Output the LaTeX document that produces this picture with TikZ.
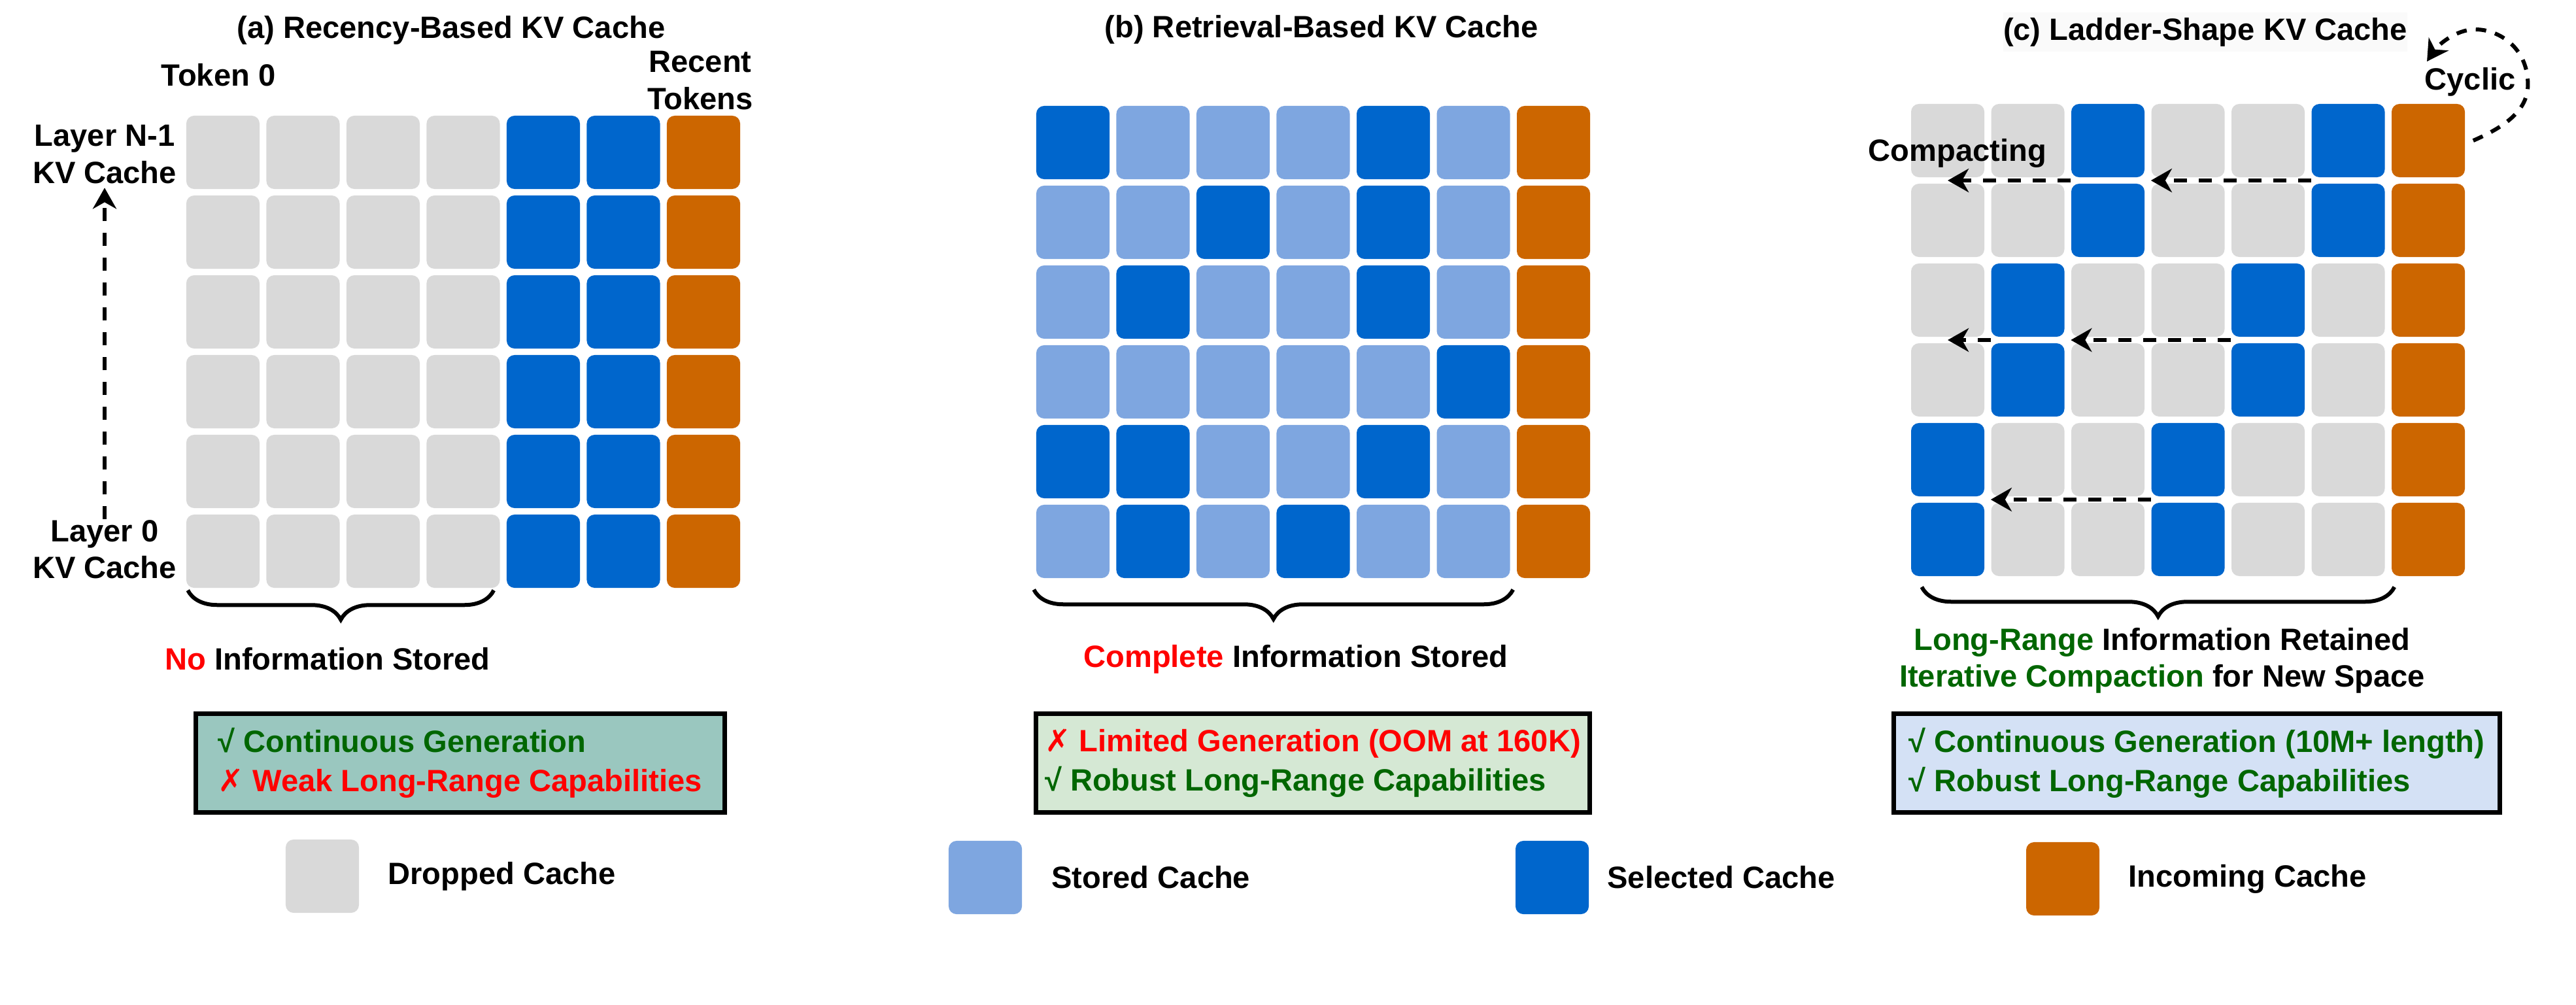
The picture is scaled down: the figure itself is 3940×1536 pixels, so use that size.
\documentclass[tikz,border=0pt]{standalone}
\usepackage{fontspec}
\setmainfont{Liberation Sans}
\newfontfamily\symfont{DejaVu Sans}
\usetikzlibrary{positioning,calc,arrows.meta,decorations.pathreplacing}

\definecolor{cg}{HTML}{D9D9D9}
\definecolor{cl}{HTML}{7EA6E0}
\definecolor{cb}{HTML}{0066CC}
\definecolor{co}{HTML}{CC6600}
\definecolor{boxa}{HTML}{9AC7BF}
\definecolor{boxb}{HTML}{D5E8D4}
\definecolor{boxc}{HTML}{D4E1F5}
\definecolor{okgreen}{HTML}{006600}
\definecolor{badred}{HTML}{FF0000}

\newcommand{\okmark}{√}
\newcommand{\badmark}{{\symfont\mdseries ✗}}

\begin{document}
\begin{tikzpicture}[x=0.01cm, y=-0.01cm,
  font=\bfseries\fontsize{13.4}{16}\selectfont,
  kvcell/.style={rectangle, minimum size=1.12cm, rounded corners=0.12cm, inner sep=0},
  lbl/.style={inner sep=0, align=center},
  prosbox/.style={draw=black, line width=0.07cm, minimum height=1.51cm, align=left, inner sep=0,
    font=\bfseries\fontsize{13.4}{17}\selectfont},
  dashline/.style={line width=0.06cm, dash pattern=on 0.2cm off 0.18cm},
  dasharrow/.style={-{Stealth[length=0.32cm, width=0.36cm, inset=0.1cm]}},
  curly/.style={line width=0.06cm, decorate, decoration={brace, mirror, amplitude=0.45cm}}]
\useasboundingbox (0,0) rectangle (3940,1536);

\foreach \r in {0,...,5} {
  \foreach \fc [count=\c from 0] in {cg,cg,cg,cg,cb,cb,co} {
    \node[kvcell, fill=\fc] (a-\r-\c) at ({341+122.5*\c}, {233+122*\r}) {};
  }
}
\foreach \row [count=\r from 0] in {{cb,cl,cl,cl,cb,cl,co},{cl,cl,cb,cl,cb,cl,co},{cl,cb,cl,cl,cb,cl,co},
    {cl,cl,cl,cl,cl,cb,co},{cb,cb,cl,cl,cb,cl,co},{cl,cb,cl,cb,cl,cl,co}} {
  \foreach \fc [count=\c from 0] in \row {
    \node[kvcell, fill=\fc] (b-\r-\c) at ({1641+122.5*\c}, {218+122*\r}) {};
  }
}
\foreach \row [count=\r from 0] in {{cg,cg,cb,cg,cg,cb,co},{cg,cg,cb,cg,cg,cb,co},{cg,cb,cg,cg,cb,cg,co},
    {cg,cb,cg,cg,cb,cg,co},{cb,cg,cg,cb,cg,cg,co},{cb,cg,cg,cb,cg,cg,co}} {
  \foreach \fc [count=\c from 0] in \row {
    \node[kvcell, fill=\fc] (c-\r-\c) at ({2979+122.5*\c}, {215+122*\r}) {};
  }
}

\node[lbl] (ttla) at (690,46) {(a) Recency-Based KV Cache};
\node[lbl] (ttlb) at (2021,45) {(b) Retrieval-Based KV Cache};
\node[lbl, fill=black!2, inner ysep=0.08cm] (ttlc) at (3373,49) {(c) Ladder-Shape KV Cache};

\node[lbl] (tok0) at (334,115) {Token 0};
\node[lbl] (recent) at (1071,123) {Recent\\Tokens};
\node[lbl] (layN) at (160,236) {Layer N-1\\KV Cache};
\node[lbl] (lay0) at (160,840) {Layer 0\\KV Cache};
\draw[dashline, dasharrow, shorten >=0.06cm] (lay0) -- (layN);

\draw[curly] ($(a-5-0.south west)+(3,3)$) -- ($(a-5-3.south east)+(-10,3)$);
\draw[curly] ($(b-5-0.south west)+(-3,17)$) -- ($(b-5-5.south east)+(4,17)$);
\draw[curly] ($(c-5-0.south west)+(17,16)$) -- ($(c-5-5.south east)+(14,16)$);

\node[lbl] (infa) at (501,1008) {\textcolor{badred}{No} Information Stored};
\node[lbl] (infb) at (1982,1008) {\textcolor{badred}{Complete} Information Stored};
\node[lbl] (infc) at (3307,1010) {\textcolor{okgreen}{Long-Range} Information Retained\\
  \textcolor{okgreen}{Iterative Compaction} for New Space};

\node[prosbox, fill=boxa, minimum width=8.09cm] (prosa) at (704,1167)
  {\textcolor{okgreen}{\okmark\ Continuous Generation}\\
   \textcolor{badred}{\badmark\ Weak Long-Range Capabilities}};
\node[prosbox, fill=boxb, minimum width=8.47cm] (prosb) at (2008,1167)
  {\textcolor{badred}{\badmark\ Limited Generation (OOM at 160K)}\\
   \textcolor{okgreen}{\okmark\ Robust Long-Range Capabilities}};
\node[prosbox, fill=boxc, minimum width=9.26cm] (prosc) at (3360,1167)
  {\textcolor{okgreen}{\okmark\ Continuous Generation (10M+ length)}\\
   \textcolor{okgreen}{\okmark\ Robust Long-Range Capabilities}};

\node[lbl] (compact) at (2994,234) {Compacting};
\draw[dashline, dasharrow] ($(c-0-5.south west)!.5!(c-1-5.north west)$) -- ($(c-0-3.south west)!.5!(c-1-3.north west)$);
\draw[dashline, dasharrow] ($(c-0-2.south west)!.5!(c-1-2.north west)$) -- ($(c-0-0.south)!.5!(c-1-0.north)$);
\draw[dashline, dasharrow] ($(c-2-4.south west)!.5!(c-3-4.north west)$) -- ($(c-2-2.south west)!.5!(c-3-2.north west)$);
\draw[dashline, dasharrow] ($(c-2-1.south west)!.5!(c-3-1.north west)$) -- ($(c-2-0.south)!.5!(c-3-0.north)$);
\draw[dashline, dasharrow] ($(c-4-3.south west)!.5!(c-5-3.north west)$) -- ($(c-4-1.south west)!.5!(c-5-1.north west)$);

\node[lbl] (cyc) at (3778,125) {Cyclic};
\coordinate (cycstart) at ($(c-0-6.east)+(12,0)$);
\coordinate (cycend) at (3712,94);
\draw[line width=0.06cm, dash pattern=on 0.16cm off 0.14cm, dasharrow] (cycstart)
  .. controls (3845,188) and (3870,160) .. (3866,121)
  .. controls (3862,70) and (3820,45) .. (3786,45)
  .. controls (3755,45) and (3728,70) .. (cycend);

\node[kvcell, fill=cg] (legd) at (493,1340) {};
\node[lbl, right=0.43cm of legd] (legdt) {Dropped Cache};
\node[kvcell, fill=cl] (legs) at (1507,1342) {};
\node[lbl, right=0.44cm of legs] (legst) {Stored Cache};
\node[kvcell, fill=cb] (legb) at (2374,1342) {};
\node[lbl, right=0.27cm of legb] (legbt) {Selected Cache};
\node[kvcell, fill=co] (lego) at (3155,1344) {};
\node[lbl, right=0.43cm of lego] (legot) {Incoming Cache};
\end{tikzpicture}
\end{document}
